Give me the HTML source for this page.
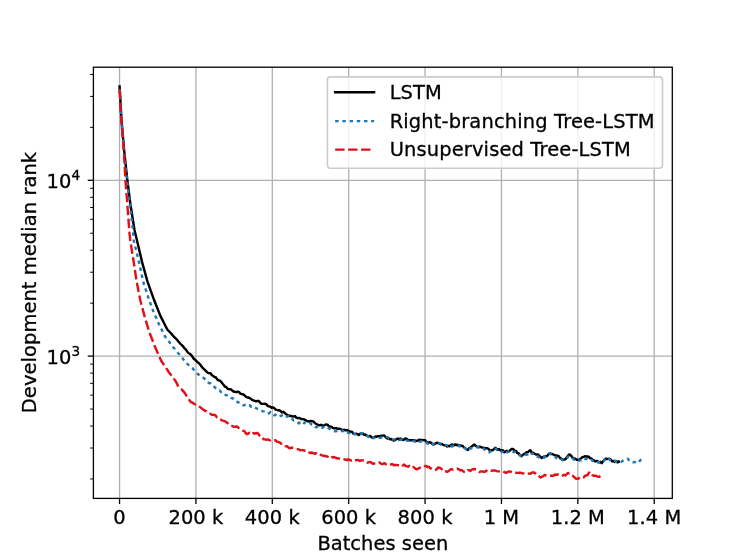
<!DOCTYPE html>
<html><head><meta charset="utf-8"><title>Development median rank</title>
<style>
html,body{margin:0;padding:0;background:#fff;}
svg{display:block;}
text{font-family:"DejaVu Sans","Liberation Sans",sans-serif;font-size:19.45px;fill:#000;letter-spacing:0.15px;stroke:#000;stroke-width:0.3px;}
</style></head><body>
<svg width="747" height="560" viewBox="0 0 747 560">
<rect x="0" y="0" width="747" height="560" fill="#ffffff"/>
<defs><clipPath id="ax"><rect x="93.4" y="67.2" width="578.9" height="431.2"/></clipPath></defs>

<g stroke="#b0b0b0" stroke-width="1.30" fill="none">
<line x1="119.55" y1="67.2" x2="119.55" y2="498.4"/>
<line x1="195.93" y1="67.2" x2="195.93" y2="498.4"/>
<line x1="272.31" y1="67.2" x2="272.31" y2="498.4"/>
<line x1="348.69" y1="67.2" x2="348.69" y2="498.4"/>
<line x1="425.07" y1="67.2" x2="425.07" y2="498.4"/>
<line x1="501.45" y1="67.2" x2="501.45" y2="498.4"/>
<line x1="577.83" y1="67.2" x2="577.83" y2="498.4"/>
<line x1="654.21" y1="67.2" x2="654.21" y2="498.4"/>
<line x1="93.4" y1="180.30" x2="672.3" y2="180.30"/>
<line x1="93.4" y1="356.10" x2="672.3" y2="356.10"/>
</g>
<g clip-path="url(#ax)" fill="none" stroke-linejoin="round">
<polyline points="119.6,86.5 121.5,120.0 124.1,150.0 127.3,180.0 130.5,205.0 134.5,230.0 136.9,240.0 142.1,262.1 147.4,281.4 154.2,300.3 160.5,316.1 165.0,325.0 166.3,327.7 167.6,329.8 168.9,331.1 170.2,332.5 171.5,333.9 172.8,335.4 174.1,337.0 175.4,338.1 176.7,339.3 178.0,341.1 179.3,342.5 180.6,344.1 181.9,345.1 183.2,346.6 184.5,348.3 185.8,349.5 187.1,351.4 188.4,353.0 189.7,353.8 191.0,354.8 192.3,356.5 193.6,358.5 194.9,359.6 196.2,360.7 197.5,362.2 198.8,363.1 200.1,364.5 201.4,366.2 202.7,367.9 204.0,369.1 205.3,370.4 206.6,371.8 207.9,372.8 209.2,373.2 210.5,373.2 211.8,375.0 213.1,375.9 214.4,377.0 215.7,377.3 217.0,379.1 218.3,380.4 219.6,380.5 220.9,381.4 222.2,383.2 223.5,384.7 224.8,386.5 226.1,387.0 227.4,388.6 228.7,389.3 230.0,389.1 231.3,389.7 232.6,390.9 233.9,391.7 235.2,391.8 236.5,392.2 237.8,391.6 239.1,392.1 240.4,393.7 241.7,394.1 243.0,394.2 244.3,395.2 245.6,396.4 246.9,397.3 248.2,397.5 249.5,398.0 250.8,398.7 252.1,400.0 253.4,400.4 254.7,400.8 256.0,401.4 257.3,401.0 258.6,400.9 259.9,402.3 261.2,403.7 262.5,403.9 263.8,403.9 265.1,403.7 266.4,404.4 267.7,405.9 269.0,406.5 270.3,406.6 271.6,407.7 272.9,407.4 274.2,408.1 275.5,409.5 276.8,409.9 278.1,410.2 279.4,410.3 280.7,411.1 282.0,412.5 283.3,411.7 284.6,413.0 285.9,414.0 287.2,414.9 288.5,415.4 289.8,416.0 291.1,416.0 292.4,416.4 293.7,416.5 295.0,416.1 296.3,417.7 297.6,418.2 298.9,417.9 300.2,418.5 301.5,419.0 302.8,419.1 304.1,419.4 305.4,420.1 306.7,420.8 308.0,421.3 309.3,421.5 310.6,421.0 311.9,421.2 313.2,421.4 314.5,422.5 315.8,423.8 317.1,424.5 318.4,425.0 319.7,425.4 321.0,424.7 322.3,425.5 323.6,425.8 324.9,424.9 326.2,424.5 327.5,424.6 328.8,426.3 330.1,426.5 331.4,426.6 332.7,427.9 334.0,428.3 335.3,428.2 336.6,428.2 337.9,429.0 339.2,428.8 340.5,428.9 341.8,429.9 343.1,430.0 344.4,429.8 345.7,430.3 347.0,430.0 348.3,430.8 349.6,431.5 350.9,431.7 352.2,431.9 353.5,433.8 354.8,434.1 356.1,433.7 357.4,434.2 358.7,435.0 360.0,434.0 361.3,433.5 362.6,433.5 363.9,434.7 365.2,434.5 366.5,435.5 367.8,436.1 369.1,436.3 370.4,436.0 371.7,437.3 373.0,437.8 374.3,437.3 375.6,436.4 376.9,436.7 378.2,436.2 379.5,436.3 380.8,435.8 382.1,436.0 383.4,435.4 384.7,435.9 386.0,437.6 387.3,438.5 388.6,438.1 389.9,439.2 391.2,438.9 392.5,440.2 393.8,440.6 395.1,440.0 396.4,439.3 397.7,438.4 399.0,439.6 400.3,438.5 401.6,439.3 402.9,440.0 404.2,439.5 405.5,438.4 406.8,439.1 408.1,439.8 409.4,440.2 410.7,440.2 412.0,440.2 413.3,440.3 414.6,440.4 415.9,441.1 417.2,440.8 418.5,440.2 419.8,439.6 421.1,440.3 422.4,439.9 423.7,440.1 425.0,440.1 426.3,441.7 427.6,442.9 428.9,442.2 430.2,442.4 431.5,443.1 432.8,444.4 434.1,444.4 435.4,443.5 436.7,442.7 438.0,443.0 439.3,443.4 440.6,444.3 441.9,443.9 443.2,444.9 444.5,445.3 445.8,445.3 447.1,446.5 448.4,445.9 449.7,446.2 451.0,445.0 452.3,444.4 453.6,445.4 454.9,444.5 456.2,445.0 457.5,444.8 458.8,445.6 460.1,445.5 461.4,445.7 462.7,446.0 464.0,447.5 465.3,448.1 466.6,449.4 467.9,449.9 469.2,448.1 470.5,447.7 471.8,446.4 473.1,445.4 474.4,444.6 475.7,445.9 477.0,446.6 478.3,447.2 479.6,446.7 480.9,447.0 482.2,447.6 483.5,447.6 484.8,448.3 486.1,448.3 487.4,448.3 488.7,449.0 490.0,450.8 491.3,450.2 492.6,450.2 493.9,449.1 495.2,447.8 496.5,448.7 497.8,449.8 499.1,449.1 500.4,450.3 501.7,450.1 503.0,450.4 504.3,452.3 505.6,451.5 506.9,450.8 508.2,451.7 509.5,450.9 510.8,449.6 512.1,448.8 513.4,449.2 514.7,451.0 516.0,451.0 517.3,453.0 518.6,453.3 519.9,455.0 521.2,456.2 522.5,455.3 523.8,454.1 525.1,453.6 526.4,452.3 527.7,452.4 529.0,451.0 530.3,450.2 531.6,452.4 532.9,452.6 534.2,453.6 535.5,454.2 536.8,454.5 538.1,454.4 539.4,456.0 540.7,457.1 542.0,457.9 543.3,456.8 544.6,456.6 545.9,456.2 547.2,455.9 548.5,454.3 549.8,453.2 551.1,454.0 552.4,454.0 553.7,454.8 555.0,455.2 556.3,455.6 557.6,455.7 558.9,456.4 560.2,458.3 561.5,458.7 562.8,459.5 564.1,459.7 565.4,459.2 566.7,457.4 568.0,455.8 569.3,454.4 570.6,455.0 571.9,456.8 573.2,458.3 574.5,458.4 575.8,459.0 577.1,459.9 578.4,459.7 579.7,459.4 581.0,458.4 582.3,457.3 583.6,456.9 584.9,456.2 586.2,456.5 587.5,456.5 588.8,456.8 590.1,458.2 591.4,458.5 592.7,459.9 594.0,460.4 595.3,461.5 596.6,460.9 597.9,461.4 599.2,462.4 600.5,461.8 601.8,463.2 603.1,461.1 604.4,459.8 605.7,458.6 607.0,459.0 608.3,458.9 609.6,458.7 610.9,459.7 612.2,461.4 613.5,461.0 614.8,461.9 616.1,461.1 617.4,462.2 618.7,461.2 619.0,461.8" stroke="#000000" stroke-width="2.43" stroke-linecap="square"/>
<polyline points="119.6,89.0 121.4,120.0 123.9,150.0 127.0,180.0 130.0,205.0 132.9,230.0 133.6,240.0 139.0,262.1 143.1,281.4 149.2,300.3 153.3,311.2 158.9,324.1 165.0,336.4 166.3,338.4 167.6,339.9 168.9,341.4 170.2,343.3 171.5,345.1 172.8,346.8 174.1,348.2 175.4,349.9 176.7,351.5 178.0,353.0 179.3,354.3 180.6,355.9 181.9,357.4 183.2,359.1 184.5,360.9 185.8,362.5 187.1,363.7 188.4,364.9 189.7,366.0 191.0,366.9 192.3,367.9 193.6,369.5 194.9,370.8 196.2,372.0 197.5,373.7 198.8,374.8 200.1,375.9 201.4,376.6 202.7,377.1 204.0,378.3 205.3,379.2 206.6,380.5 207.9,382.3 209.2,383.2 210.5,383.3 211.8,384.9 213.1,386.0 214.4,386.9 215.7,388.2 217.0,389.1 218.3,390.1 219.6,390.3 220.9,392.0 222.2,393.3 223.5,393.1 224.8,394.4 226.1,395.2 227.4,395.4 228.7,396.0 230.0,396.5 231.3,398.0 232.6,398.2 233.9,399.3 235.2,399.4 236.5,401.0 237.8,402.3 239.1,402.6 240.4,403.3 241.7,404.8 243.0,405.4 244.3,405.2 245.6,404.7 246.9,404.8 248.2,405.6 249.5,405.2 250.8,406.6 252.1,406.2 253.4,407.3 254.7,407.0 256.0,408.1 257.3,408.6 258.6,409.0 259.9,409.5 261.2,410.5 262.5,411.2 263.8,411.4 265.1,411.6 266.4,412.7 267.7,413.5 269.0,413.2 270.3,412.1 271.6,413.5 272.9,414.3 274.2,415.3 275.5,414.7 276.8,415.7 278.1,415.1 279.4,416.2 280.7,415.8 282.0,415.4 283.3,416.5 284.6,415.6 285.9,415.9 287.2,416.7 288.5,416.0 289.8,416.4 291.1,418.5 292.4,419.2 293.7,420.6 295.0,420.6 296.3,421.6 297.6,422.3 298.9,423.4 300.2,422.6 301.5,423.7 302.8,422.5 304.1,423.2 305.4,422.1 306.7,421.9 308.0,423.1 309.3,423.1 310.6,423.4 311.9,424.8 313.2,425.3 314.5,425.3 315.8,427.3 317.1,427.0 318.4,426.4 319.7,426.6 321.0,427.2 322.3,427.8 323.6,426.9 324.9,426.9 326.2,426.3 327.5,427.1 328.8,428.4 330.1,429.2 331.4,430.1 332.7,430.5 334.0,431.1 335.3,431.3 336.6,431.0 337.9,430.5 339.2,431.2 340.5,431.0 341.8,430.7 343.1,431.2 344.4,432.5 345.7,431.8 347.0,432.5 348.3,432.6 349.6,433.0 350.9,432.6 352.2,434.1 353.5,433.6 354.8,434.1 356.1,434.1 357.4,433.4 358.7,434.0 360.0,433.7 361.3,433.4 362.6,433.3 363.9,433.5 365.2,433.8 366.5,435.2 367.8,435.9 369.1,437.3 370.4,438.2 371.7,439.0 373.0,438.2 374.3,437.8 375.6,437.1 376.9,437.4 378.2,437.5 379.5,437.9 380.8,437.8 382.1,436.9 383.4,437.1 384.7,437.6 386.0,437.1 387.3,437.1 388.6,438.0 389.9,438.1 391.2,439.5 392.5,439.6 393.8,439.5 395.1,439.3 396.4,439.3 397.7,439.2 399.0,439.7 400.3,439.9 401.6,439.5 402.9,439.9 404.2,439.2 405.5,440.1 406.8,440.6 408.1,440.7 409.4,440.6 410.7,440.9 412.0,441.4 413.3,440.9 414.6,441.5 415.9,441.9 417.2,441.2 418.5,440.7 419.8,441.7 421.1,441.3 422.4,441.4 423.7,442.1 425.0,442.2 426.3,442.2 427.6,443.8 428.9,443.8 430.2,443.4 431.5,444.7 432.8,444.0 434.1,443.8 435.4,444.6 436.7,444.6 438.0,443.3 439.3,443.3 440.6,443.7 441.9,444.3 443.2,444.3 444.5,445.2 445.8,445.0 447.1,445.4 448.4,446.0 449.7,447.2 451.0,446.0 452.3,446.5 453.6,445.6 454.9,445.8 456.2,445.4 457.5,445.3 458.8,446.1 460.1,446.3 461.4,446.2 462.7,446.4 464.0,446.7 465.3,448.6 466.6,449.5 467.9,450.5 469.2,450.0 470.5,448.2 471.8,448.2 473.1,448.2 474.4,447.9 475.7,447.4 477.0,447.1 478.3,447.2 479.6,448.0 480.9,447.5 482.2,447.8 483.5,448.3 484.8,449.9 486.1,450.7 487.4,451.7 488.7,452.4 490.0,452.0 491.3,450.7 492.6,450.1 493.9,449.1 495.2,448.6 496.5,449.3 497.8,450.7 499.1,451.2 500.4,452.2 501.7,451.6 503.0,452.1 504.3,453.9 505.6,453.0 506.9,452.5 508.2,451.3 509.5,450.5 510.8,451.3 512.1,451.8 513.4,452.1 514.7,451.8 516.0,452.3 517.3,452.8 518.6,454.3 519.9,455.4 521.2,456.0 522.5,456.0 523.8,454.7 525.1,454.5 526.4,454.9 527.7,454.4 529.0,452.7 530.3,452.5 531.6,453.6 532.9,453.7 534.2,455.2 535.5,455.5 536.8,456.5 538.1,456.5 539.4,457.7 540.7,458.1 542.0,458.1 543.3,457.3 544.6,457.6 545.9,456.1 547.2,455.5 548.5,455.2 549.8,453.2 551.1,454.1 552.4,454.8 553.7,455.4 555.0,456.6 556.3,458.0 557.6,458.5 558.9,458.5 560.2,459.7 561.5,459.4 562.8,460.3 564.1,460.3 565.4,459.5 566.7,458.8 568.0,456.7 569.3,455.9 570.6,456.3 571.9,457.5 573.2,459.1 574.5,459.7 575.8,459.3 577.1,460.1 578.4,460.3 579.7,460.6 581.0,460.2 582.3,460.1 583.6,458.3 584.9,459.0 586.2,458.8 587.5,459.1 588.8,460.1 590.1,460.8 591.4,459.9 592.7,461.0 594.0,461.7 595.3,461.3 596.6,462.1 597.9,462.4 599.2,461.9 600.5,463.0 601.8,462.4 603.1,461.7 604.4,459.9 605.7,457.7 607.0,458.4 608.3,459.0 609.6,459.2 610.9,461.0 612.2,460.6 613.5,460.1 614.8,460.7 616.1,461.8 617.4,462.1 618.7,462.4 620.0,462.2 621.3,461.9 622.6,460.9 623.9,460.0 625.2,459.8 626.5,458.6 627.8,458.7 629.1,460.2 630.4,460.2 631.7,461.4 633.0,462.2 634.3,461.9 635.6,462.3 636.9,462.9 638.2,463.1 639.5,461.2 640.8,459.8 642.1,459.2 643.4,459.4 643.5,459.8" stroke="#1f77b4" stroke-width="2.43" stroke-dasharray="3.45 3.75"/>
<polyline points="119.6,89.5 121.3,120.0 123.8,150.0 125.4,180.0 127.4,205.0 129.4,232.4 130.2,240.0 133.7,262.1 136.6,281.4 140.3,300.3 144.5,316.1 149.3,332.1 154.9,346.6 161.3,361.0 165.0,366.4 166.3,368.4 167.6,370.3 168.9,372.2 170.2,374.0 171.5,375.5 172.8,377.0 174.1,379.1 175.4,380.9 176.7,383.1 178.0,385.9 179.3,387.1 180.6,388.5 181.9,389.7 183.2,391.1 184.5,392.6 185.8,394.6 187.1,396.8 188.4,398.5 189.7,400.5 191.0,402.2 192.3,402.4 193.6,403.5 194.9,404.3 196.2,404.7 197.5,405.0 198.8,406.4 200.1,407.1 201.4,408.1 202.7,409.2 204.0,410.0 205.3,411.0 206.6,411.2 207.9,412.2 209.2,412.6 210.5,413.9 211.8,414.9 213.1,414.6 214.4,414.9 215.7,415.6 217.0,417.6 218.3,418.2 219.6,419.3 220.9,419.7 222.2,420.4 223.5,420.8 224.8,421.2 226.1,422.1 227.4,422.9 228.7,424.2 230.0,424.7 231.3,425.7 232.6,426.2 233.9,426.9 235.2,426.9 236.5,426.2 237.8,427.3 239.1,428.2 240.4,428.9 241.7,429.4 243.0,430.7 244.3,431.1 245.6,433.0 246.9,434.2 248.2,433.7 249.5,432.8 250.8,433.8 252.1,434.5 253.4,433.2 254.7,433.7 256.0,433.2 257.3,433.0 258.6,434.1 259.9,436.1 261.2,437.9 262.5,437.8 263.8,439.4 265.1,439.4 266.4,439.9 267.7,439.4 269.0,440.0 270.3,440.4 271.6,439.6 272.9,440.1 274.2,440.2 275.5,440.3 276.8,441.8 278.1,441.8 279.4,442.3 280.7,443.3 282.0,444.5 283.3,444.6 284.6,444.7 285.9,446.4 287.2,446.3 288.5,447.6 289.8,448.3 291.1,447.8 292.4,447.8 293.7,448.1 295.0,448.6 296.3,448.9 297.6,449.1 298.9,449.4 300.2,450.3 301.5,450.1 302.8,450.0 304.1,450.7 305.4,450.5 306.7,450.7 308.0,452.3 309.3,452.6 310.6,453.0 311.9,452.5 313.2,453.1 314.5,453.8 315.8,453.2 317.1,454.2 318.4,454.8 319.7,454.2 321.0,455.1 322.3,455.4 323.6,456.0 324.9,455.7 326.2,456.3 327.5,456.7 328.8,455.6 330.1,455.2 331.4,456.2 332.7,457.5 334.0,457.2 335.3,457.6 336.6,458.2 337.9,458.3 339.2,458.6 340.5,458.9 341.8,459.2 343.1,459.7 344.4,459.4 345.7,459.5 347.0,460.3 348.3,459.3 349.6,459.9 350.9,460.5 352.2,460.1 353.5,459.7 354.8,460.7 356.1,460.2 357.4,459.9 358.7,460.2 360.0,461.0 361.3,460.3 362.6,460.4 363.9,460.5 365.2,461.7 366.5,461.8 367.8,462.7 369.1,462.0 370.4,462.1 371.7,462.9 373.0,463.8 374.3,463.5 375.6,462.9 376.9,462.4 378.2,462.9 379.5,462.5 380.8,463.6 382.1,464.2 383.4,463.5 384.7,463.3 386.0,464.4 387.3,464.7 388.6,465.3 389.9,464.9 391.2,464.3 392.5,464.3 393.8,465.3 395.1,465.0 396.4,465.0 397.7,465.1 399.0,465.3 400.3,465.4 401.6,466.5 402.9,465.4 404.2,464.5 405.5,465.8 406.8,466.3 408.1,466.7 409.4,465.8 410.7,467.0 412.0,467.8 413.3,467.1 414.6,468.0 415.9,469.0 417.2,469.2 418.5,468.6 419.8,467.7 421.1,467.2 422.4,466.6 423.7,465.8 425.0,466.2 426.3,465.9 427.6,467.2 428.9,466.7 430.2,468.2 431.5,468.8 432.8,469.8 434.1,470.3 435.4,470.1 436.7,469.2 438.0,467.5 439.3,467.8 440.6,468.2 441.9,469.4 443.2,471.3 444.5,472.0 445.8,471.4 447.1,471.8 448.4,471.2 449.7,470.1 451.0,469.2 452.3,469.6 453.6,468.9 454.9,469.2 456.2,469.0 457.5,468.7 458.8,469.3 460.1,470.4 461.4,469.9 462.7,470.9 464.0,471.8 465.3,471.8 466.6,471.8 467.9,470.1 469.2,470.4 470.5,470.9 471.8,469.6 473.1,469.2 474.4,468.9 475.7,469.6 477.0,470.2 478.3,470.8 479.6,472.0 480.9,471.4 482.2,471.4 483.5,471.8 484.8,471.7 486.1,470.6 487.4,471.3 488.7,471.5 490.0,470.5 491.3,470.7 492.6,470.5 493.9,470.4 495.2,470.5 496.5,471.1 497.8,471.4 499.1,471.3 500.4,471.1 501.7,471.3 503.0,471.2 504.3,472.1 505.6,472.8 506.9,472.5 508.2,471.7 509.5,471.4 510.8,471.6 512.1,472.1 513.4,472.7 514.7,472.3 516.0,472.8 517.3,472.9 518.6,472.8 519.9,472.6 521.2,472.9 522.5,473.5 523.8,473.5 525.1,474.0 526.4,474.0 527.7,473.5 529.0,473.6 530.3,473.8 531.6,472.6 532.9,472.5 534.2,472.4 535.5,473.6 536.8,475.0 538.1,475.1 539.4,476.6 540.7,477.6 542.0,476.7 543.3,476.1 544.6,475.0 545.9,475.4 547.2,475.2 548.5,475.6 549.8,475.8 551.1,475.7 552.4,475.8 553.7,475.5 555.0,474.5 556.3,475.0 557.6,474.4 558.9,474.5 560.2,475.9 561.5,475.5 562.8,475.5 564.1,474.7 565.4,475.4 566.7,474.2 568.0,472.9 569.3,473.5 570.6,473.4 571.9,475.2 573.2,476.1 574.5,477.3 575.8,478.5 577.1,478.7 578.4,478.7 579.7,477.1 581.0,477.6 582.3,477.3 583.6,477.4 584.9,475.9 586.2,475.5 587.5,475.2 588.8,472.9 590.1,471.8 591.4,473.4 592.7,475.4 594.0,475.8 595.3,475.7 596.6,476.0 597.9,476.8 599.2,476.9 600.5,476.0 600.8,475.9" stroke="#e10f17" stroke-width="2.43" stroke-dasharray="9.4 3.55"/>
</g>
<g stroke="#000" stroke-width="1.30">
<line x1="119.55" y1="498.4" x2="119.55" y2="504.07"/>
<line x1="195.93" y1="498.4" x2="195.93" y2="504.07"/>
<line x1="272.31" y1="498.4" x2="272.31" y2="504.07"/>
<line x1="348.69" y1="498.4" x2="348.69" y2="504.07"/>
<line x1="425.07" y1="498.4" x2="425.07" y2="504.07"/>
<line x1="501.45" y1="498.4" x2="501.45" y2="504.07"/>
<line x1="577.83" y1="498.4" x2="577.83" y2="504.07"/>
<line x1="654.21" y1="498.4" x2="654.21" y2="504.07"/>
<line x1="93.4" y1="180.30" x2="87.73" y2="180.30"/>
<line x1="93.4" y1="356.10" x2="87.73" y2="356.10"/>
</g>
<g stroke="#000" stroke-width="0.97">
<line x1="93.4" y1="478.98" x2="90.16" y2="478.98"/>
<line x1="93.4" y1="448.02" x2="90.16" y2="448.02"/>
<line x1="93.4" y1="426.06" x2="90.16" y2="426.06"/>
<line x1="93.4" y1="409.02" x2="90.16" y2="409.02"/>
<line x1="93.4" y1="395.10" x2="90.16" y2="395.10"/>
<line x1="93.4" y1="383.33" x2="90.16" y2="383.33"/>
<line x1="93.4" y1="373.14" x2="90.16" y2="373.14"/>
<line x1="93.4" y1="364.14" x2="90.16" y2="364.14"/>
<line x1="93.4" y1="303.18" x2="90.16" y2="303.18"/>
<line x1="93.4" y1="272.22" x2="90.16" y2="272.22"/>
<line x1="93.4" y1="250.26" x2="90.16" y2="250.26"/>
<line x1="93.4" y1="233.22" x2="90.16" y2="233.22"/>
<line x1="93.4" y1="219.30" x2="90.16" y2="219.30"/>
<line x1="93.4" y1="207.53" x2="90.16" y2="207.53"/>
<line x1="93.4" y1="197.34" x2="90.16" y2="197.34"/>
<line x1="93.4" y1="188.34" x2="90.16" y2="188.34"/>
<line x1="93.4" y1="127.38" x2="90.16" y2="127.38"/>
<line x1="93.4" y1="96.42" x2="90.16" y2="96.42"/>
<line x1="93.4" y1="74.46" x2="90.16" y2="74.46"/>
</g>
<rect x="93.4" y="67.2" width="578.9" height="431.2" fill="none" stroke="#000" stroke-width="1.30"/>
<text x="119.55" y="524.3" text-anchor="middle" style="letter-spacing:0.08px">0</text>
<text x="195.93" y="524.3" text-anchor="middle" style="letter-spacing:0.08px">200 k</text>
<text x="272.31" y="524.3" text-anchor="middle" style="letter-spacing:0.08px">400 k</text>
<text x="348.69" y="524.3" text-anchor="middle" style="letter-spacing:0.08px">600 k</text>
<text x="425.07" y="524.3" text-anchor="middle" style="letter-spacing:0.08px">800 k</text>
<text x="501.45" y="524.3" text-anchor="middle" style="letter-spacing:0.08px">1 M</text>
<text x="577.83" y="524.3" text-anchor="middle" style="letter-spacing:0.08px">1.2 M</text>
<text x="654.21" y="524.3" text-anchor="middle" style="letter-spacing:0.08px">1.4 M</text>
<text x="80.33" y="188.30" text-anchor="end" font-size="19.9px">10<tspan dy="-8.0" font-size="13.61px">4</tspan></text>
<text x="80.33" y="364.10" text-anchor="end" font-size="19.9px">10<tspan dy="-8.0" font-size="13.61px">3</tspan></text>
<text x="382.85" y="550" text-anchor="middle" style="letter-spacing:0.03px">Batches seen</text>
<text transform="translate(36.1 282.50) rotate(-90)" text-anchor="middle" style="letter-spacing:0.08px">Development median rank</text>
<rect x="327.4" y="76.9" width="335.1" height="91.29999999999998" rx="3.2" ry="3.2" fill="#ffffff" fill-opacity="0.8" stroke="#cccccc" stroke-width="1.62"/>
<line x1="335.18" y1="92.2" x2="374.08" y2="92.2" stroke="#000000" stroke-width="2.43" stroke-linecap="square"/>
<text x="389.64" y="99.00">LSTM</text>
<line x1="335.18" y1="121.1" x2="374.08" y2="121.1" stroke="#1f77b4" stroke-width="2.43" stroke-linecap="butt" stroke-dasharray="3.45 3.75"/>
<text x="389.64" y="127.90">Right-branching Tree-LSTM</text>
<line x1="335.18" y1="149.6" x2="374.08" y2="149.6" stroke="#e10f17" stroke-width="2.43" stroke-linecap="butt" stroke-dasharray="9.4 3.55"/>
<text x="389.64" y="156.40">Unsupervised Tree-LSTM</text>
</svg></body></html>
